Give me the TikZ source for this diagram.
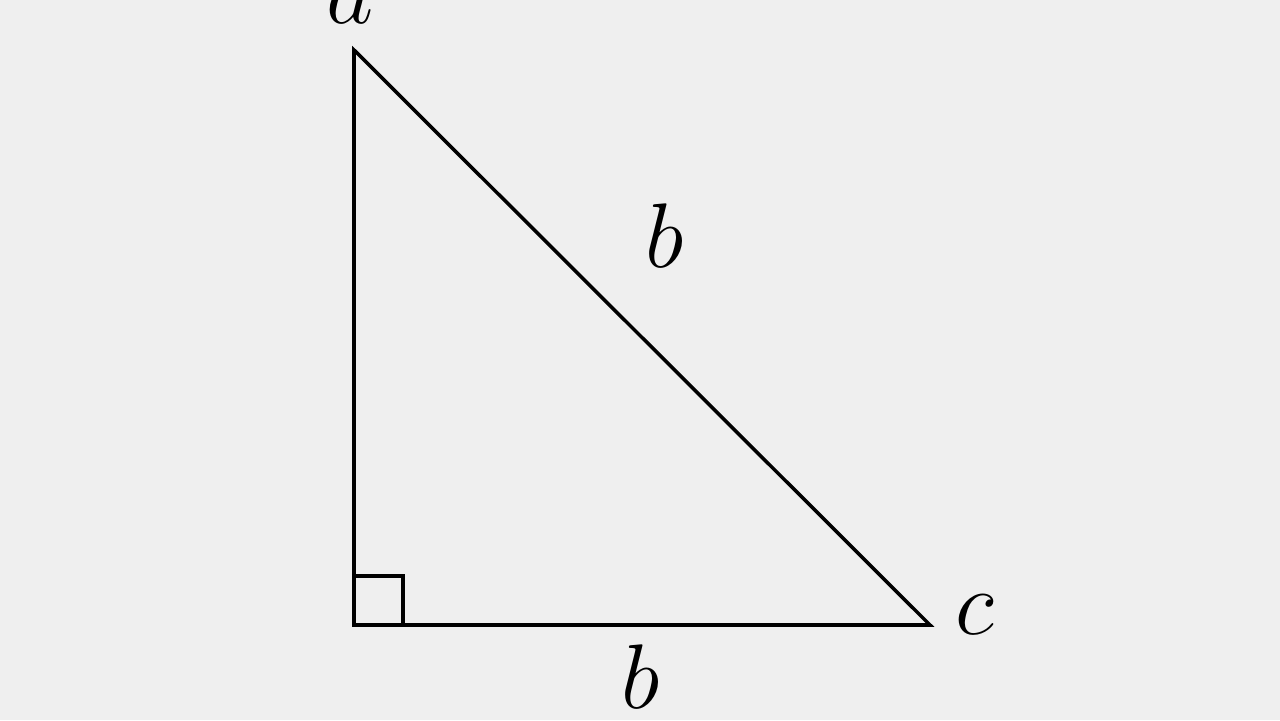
\documentclass[tikz,border=0pt]{standalone}
\definecolor{paper}{RGB}{239,239,239}
\tikzset{
  side/.style={line width=2pt, line join=miter},
  vlabel/.style={anchor=base, inner sep=0pt, font=\Huge, scale=2.1, transform shape}
}
\begin{document}
\begin{tikzpicture}[x=0.02cm,y=0.02cm]
\fill[paper] (0,0) rectangle (1280,720);
\useasboundingbox (0,0) rectangle (1280,720);
\coordinate (a) at (354,670);
\coordinate (o) at (354,95);
\coordinate (c) at (930,95);
\draw[side] (a) -- (o) -- (c) -- cycle;
\draw[side] (354,144) -- (403,144) -- (403,95);
\node[vlabel] (la) at (350,696) {$a$};
\node[vlabel] (lh) at (665,452) {$b$};
\node[vlabel] (lb) at (641,12) {$b$};
\node[vlabel] (lc) at (975,86) {$c$};
\end{tikzpicture}
\end{document}
